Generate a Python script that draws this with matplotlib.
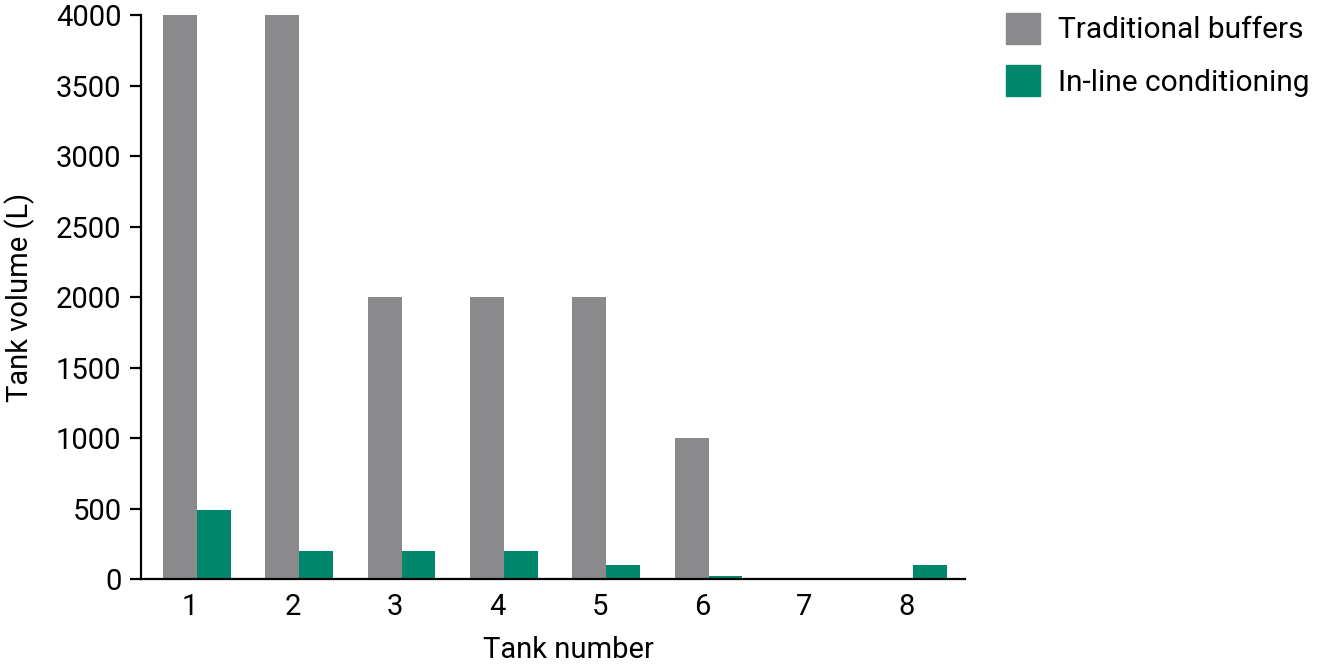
import numpy as np
import matplotlib.pyplot as plt
from matplotlib.patches import Patch

plt.rcParams['font.family'] = ['Roboto', 'DejaVu Sans']

# Data
tanks = [1, 2, 3, 4, 5, 6, 7, 8]
traditional = [4000, 4000, 2000, 2000, 2000, 1000, 0, 0]
inline = [490, 200, 200, 200, 100, 20, 10, 100]

gray = '#8a8a8c'
green = '#00876c'

fig = plt.figure(figsize=(13.3, 6.65), dpi=100)
ax = fig.add_axes([0.106, 0.1293, 0.6196, 0.8477])

x = np.array(tanks)
w = 0.33
off = 0.065  # bar groups sit slightly right of the tick labels
ax.bar(x + off - w / 2, traditional, width=w, color=gray)
ax.bar(x + off + w / 2, inline, width=w, color=green)

ax.set_xlim(0.52, 8.57)
ax.set_ylim(0, 4000)
ax.set_yticks(range(0, 4001, 500))
ax.set_xticks(tanks)

for s in ['top', 'right']:
    ax.spines[s].set_visible(False)
for s in ['left', 'bottom']:
    ax.spines[s].set_linewidth(1.6)

ax.tick_params(axis='y', length=8, width=1.6, labelsize=21, pad=6)
ax.tick_params(axis='x', length=0, labelsize=21, pad=10)

ax.set_xlabel('Tank number', fontsize=21, labelpad=11, x=0.519)
ax.set_ylabel('Tank volume (L)', fontsize=21, labelpad=15)

handles = [Patch(color=gray, label='Traditional buffers'),
           Patch(color=green, label='In-line conditioning')]
fig.legend(handles=handles, loc='upper left', bbox_to_anchor=(0.7564, 0.981),
           frameon=False, fontsize=21.5, handlelength=1.14, handleheight=1.22,
           handletextpad=0.6, labelspacing=0.7, borderpad=0, borderaxespad=0)

fig.savefig('out.png', dpi=100)
